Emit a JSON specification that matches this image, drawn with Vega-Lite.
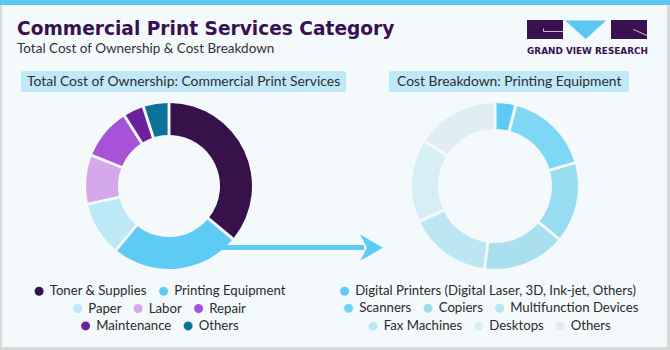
{
  "$schema": "https://vega.github.io/schema/vega-lite/v6.json",
  "width": 670,
  "height": 350,
  "autosize": {"type": "none"},
  "padding": 0,
  "background": "#d9d9d9",
  "config": {
    "view": {"stroke": null},
    "axis": {"disable": true},
    "legend": {
      "orient": "none",
      "direction": "horizontal",
      "title": null,
      "padding": 0,
      "symbolType": "circle",
      "symbolSize": 81,
      "symbolStrokeWidth": 0,
      "labelOffset": 4,
      "columnPadding": 9.5,
      "labelFont": "Lato",
      "labelFontSize": 13.2,
      "labelColor": "#2b2b2b",
      "labelLimit": 400
    },
    "text": {"font": "Lato", "color": "#2e2e2e"}
  },
  "datasets": {
    "tco": [
      {"segment": "Toner & Supplies", "share": 36},
      {"segment": "Printing Equipment", "share": 25},
      {"segment": "Paper", "share": 10.5},
      {"segment": "Labor", "share": 9.5},
      {"segment": "Repair", "share": 10},
      {"segment": "Maintenance", "share": 4},
      {"segment": "Others", "share": 5}
    ],
    "equipment": [
      {"segment": "Digital Printers (Digital Laser, 3D, Ink-jet, Others)", "share": 4},
      {"segment": "Scanners", "share": 16.5},
      {"segment": "Copiers", "share": 15.5},
      {"segment": "Multifunction Devices", "share": 16},
      {"segment": "Fax Machines", "share": 16},
      {"segment": "Desktops", "share": 16},
      {"segment": "Others", "share": 16}
    ]
  },
  "data": {"values": [{}]},
  "resolve": {"scale": {"color": "independent"}},
  "layer": [
    {
      "mark": {"type": "rect", "color": "#5bc8ef"},
      "encoding": {
        "x": {"datum": 0, "type": "quantitative", "scale": {"domain": [0, 670], "nice": false, "zero": false}, "axis": null},
        "x2": {"datum": 670},
        "y": {"datum": 0, "type": "quantitative", "scale": {"domain": [0, 350], "nice": false, "zero": false, "reverse": true}, "axis": null},
        "y2": {"datum": 5}
      }
    },
    {
      "mark": {"type": "rect", "color": "#f4f9fc"},
      "encoding": {"x": {"datum": 2}, "x2": {"datum": 667}, "y": {"datum": 5}, "y2": {"datum": 347}}
    },
    {
      "mark": {"type": "text", "text": "Commercial Print Services Category", "font": "DejaVu Sans", "fontWeight": "bold", "fontSize": 18.6, "color": "#3a1150", "align": "left", "baseline": "alphabetic"},
      "encoding": {"x": {"datum": 17}, "y": {"datum": 35}}
    },
    {
      "mark": {"type": "text", "text": "Total Cost of Ownership & Cost Breakdown", "fontSize": 13.5, "color": "#333333", "align": "left", "baseline": "alphabetic"},
      "encoding": {"x": {"datum": 17}, "y": {"datum": 53.3}}
    },
    {
      "mark": {"type": "rect", "fill": "#3a1150"},
      "encoding": {"x": {"datum": 527}, "x2": {"datum": 563}, "y": {"datum": 20}, "y2": {"datum": 39}}
    },
    {
      "mark": {"type": "rect", "fill": "#3a1150"},
      "encoding": {"x": {"datum": 611}, "x2": {"datum": 647}, "y": {"datum": 20}, "y2": {"datum": 39}}
    },
    {
      "mark": {"type": "rule", "color": "#c9bfd3", "strokeWidth": 1},
      "encoding": {"x": {"datum": 543.5}, "x2": {"datum": 563}, "y": {"datum": 31.5}}
    },
    {
      "mark": {"type": "rule", "color": "#c9bfd3", "strokeWidth": 1},
      "encoding": {"x": {"datum": 543.5}, "y": {"datum": 28.5}, "y2": {"datum": 31.5}}
    },
    {
      "mark": {"type": "rule", "color": "#c9bfd3", "strokeWidth": 1},
      "encoding": {"x": {"datum": 633.5}, "x2": {"datum": 647}, "y": {"datum": 29.5}, "y2": {"datum": 35.5}}
    },
    {
      "mark": {"type": "point", "filled": true, "opacity": 1, "color": "#5bc8ef", "size": 1681, "shape": "M-1,-0.45L1,-0.45L0,0.45Z"},
      "encoding": {"x": {"datum": 585.7}, "y": {"datum": 29.8}}
    },
    {
      "mark": {"type": "text", "text": "GRAND VIEW RESEARCH", "font": "DejaVu Sans", "fontWeight": "bold", "fontSize": 8.9, "color": "#3a1150", "align": "center", "baseline": "middle"},
      "encoding": {"x": {"datum": 587.5}, "y": {"datum": 50.8}}
    },
    {
      "mark": {"type": "rect", "fill": "#bfe8f8", "cornerRadius": 2},
      "encoding": {"x": {"datum": 21}, "x2": {"datum": 346}, "y": {"datum": 71}, "y2": {"datum": 92}}
    },
    {
      "mark": {"type": "rect", "fill": "#bfe8f8", "cornerRadius": 2},
      "encoding": {"x": {"datum": 389}, "x2": {"datum": 629}, "y": {"datum": 71}, "y2": {"datum": 92}}
    },
    {
      "mark": {"type": "text", "text": "Total Cost of Ownership: Commercial Print Services", "fontSize": 13.9, "align": "left", "baseline": "middle"},
      "encoding": {"x": {"datum": 27}, "y": {"datum": 81.5}}
    },
    {
      "mark": {"type": "text", "text": "Cost Breakdown: Printing Equipment", "fontSize": 13.9, "align": "left", "baseline": "middle"},
      "encoding": {"x": {"datum": 397}, "y": {"datum": 81.5}}
    },
    {
      "mark": {"type": "rule", "color": "#5ecbf5", "strokeWidth": 5},
      "encoding": {"x": {"datum": 200}, "x2": {"datum": 364}, "y": {"datum": 247.5}}
    },
    {
      "mark": {"type": "point", "filled": true, "opacity": 1, "color": "#5ecbf5", "size": 692, "shape": "M-0.86,-1L0.86,0L-0.86,1L-0.35,0Z"},
      "encoding": {"x": {"datum": 371.5}, "y": {"datum": 247.7}}
    },
    {
      "data": {"name": "tco"},
      "transform": [{"window": [{"op": "row_number", "as": "rank"}]}],
      "mark": {"type": "arc", "innerRadius": 51, "radius": 83, "padAngle": 0.03},
      "encoding": {
        "x": {"datum": 169},
        "y": {"datum": 186},
        "theta": {"field": "share", "type": "quantitative", "stack": true},
        "order": {"field": "rank", "type": "quantitative"},
        "color": {
          "field": "segment", "type": "nominal",
          "scale": {
            "domain": ["Toner & Supplies", "Printing Equipment", "Paper", "Labor", "Repair", "Maintenance", "Others"],
            "range": ["#371149", "#5ecbf5", "#bde8f7", "#d5a8eb", "#a753d7", "#6c209c", "#0b7398"]
          },
          "legend": null
        }
      }
    },
    {
      "data": {"name": "equipment"},
      "transform": [{"window": [{"op": "row_number", "as": "rank"}]}],
      "mark": {"type": "arc", "innerRadius": 57, "radius": 83, "padAngle": 0.03},
      "encoding": {
        "x": {"datum": 495},
        "y": {"datum": 186},
        "theta": {"field": "share", "type": "quantitative", "stack": true},
        "order": {"field": "rank", "type": "quantitative"},
        "color": {
          "field": "segment", "type": "nominal",
          "scale": {
            "domain": ["Digital Printers (Digital Laser, 3D, Ink-jet, Others)", "Scanners", "Copiers", "Multifunction Devices", "Fax Machines", "Desktops", "Others"],
            "range": ["#5ecbf5", "#7dd7f5", "#98dcf1", "#aadfef", "#bce6f3", "#d6eef6", "#e0eef3"]
          },
          "legend": null
        }
      }
    },
    {
      "data": {"name": "tco"},
      "transform": [{"filter": {"field": "segment", "oneOf": ["Toner & Supplies", "Printing Equipment"]}}],
      "mark": {"type": "arc", "radius": 0, "innerRadius": 0},
      "encoding": {
        "color": {
          "field": "segment", "type": "nominal",
          "sort": ["Toner & Supplies", "Printing Equipment"],
          "scale": {"domain": ["Toner & Supplies", "Printing Equipment"], "range": ["#371149", "#5ecbf5"]},
          "legend": {"legendX": 32.5, "legendY": 284.5, "columns": 3}
        }
      }
    },
    {
      "data": {"name": "tco"},
      "transform": [{"filter": {"field": "segment", "oneOf": ["Paper", "Labor", "Repair"]}}],
      "mark": {"type": "arc", "radius": 0, "innerRadius": 0},
      "encoding": {
        "color": {
          "field": "segment", "type": "nominal",
          "sort": ["Paper", "Labor", "Repair"],
          "scale": {"domain": ["Paper", "Labor", "Repair"], "range": ["#bde8f7", "#d5a8eb", "#a753d7"]},
          "legend": {"legendX": 71, "legendY": 301.8, "columns": 3}
        }
      }
    },
    {
      "data": {"name": "tco"},
      "transform": [{"filter": {"field": "segment", "oneOf": ["Maintenance", "Others"]}}],
      "mark": {"type": "arc", "radius": 0, "innerRadius": 0},
      "encoding": {
        "color": {
          "field": "segment", "type": "nominal",
          "sort": ["Maintenance", "Others"],
          "scale": {"domain": ["Maintenance", "Others"], "range": ["#6c209c", "#0b7398"]},
          "legend": {"legendX": 79, "legendY": 319.2, "columns": 3}
        }
      }
    },
    {
      "data": {"name": "equipment"},
      "transform": [{"filter": {"field": "segment", "oneOf": ["Digital Printers (Digital Laser, 3D, Ink-jet, Others)"]}}],
      "mark": {"type": "arc", "radius": 0, "innerRadius": 0},
      "encoding": {
        "color": {
          "field": "segment", "type": "nominal",
          "scale": {"domain": ["Digital Printers (Digital Laser, 3D, Ink-jet, Others)"], "range": ["#5ecbf5"]},
          "legend": {"legendX": 338, "legendY": 284.5, "columns": 3}
        }
      }
    },
    {
      "data": {"name": "equipment"},
      "transform": [{"filter": {"field": "segment", "oneOf": ["Scanners", "Copiers", "Multifunction Devices"]}}],
      "mark": {"type": "arc", "radius": 0, "innerRadius": 0},
      "encoding": {
        "color": {
          "field": "segment", "type": "nominal",
          "sort": ["Scanners", "Copiers", "Multifunction Devices"],
          "scale": {"domain": ["Scanners", "Copiers", "Multifunction Devices"], "range": ["#6fd3f6", "#a3dbee", "#b6e5f4"]},
          "legend": {"legendX": 342, "legendY": 301.5, "columns": 3}
        }
      }
    },
    {
      "data": {"name": "equipment"},
      "transform": [{"filter": {"field": "segment", "oneOf": ["Fax Machines", "Desktops", "Others"]}}],
      "mark": {"type": "arc", "radius": 0, "innerRadius": 0},
      "encoding": {
        "color": {
          "field": "segment", "type": "nominal",
          "sort": ["Fax Machines", "Desktops", "Others"],
          "scale": {"domain": ["Fax Machines", "Desktops", "Others"], "range": ["#bde8f5", "#d7eef6", "#e0edf2"]},
          "legend": {"legendX": 366.5, "legendY": 319.5, "columns": 3}
        }
      }
    }
  ]
}
